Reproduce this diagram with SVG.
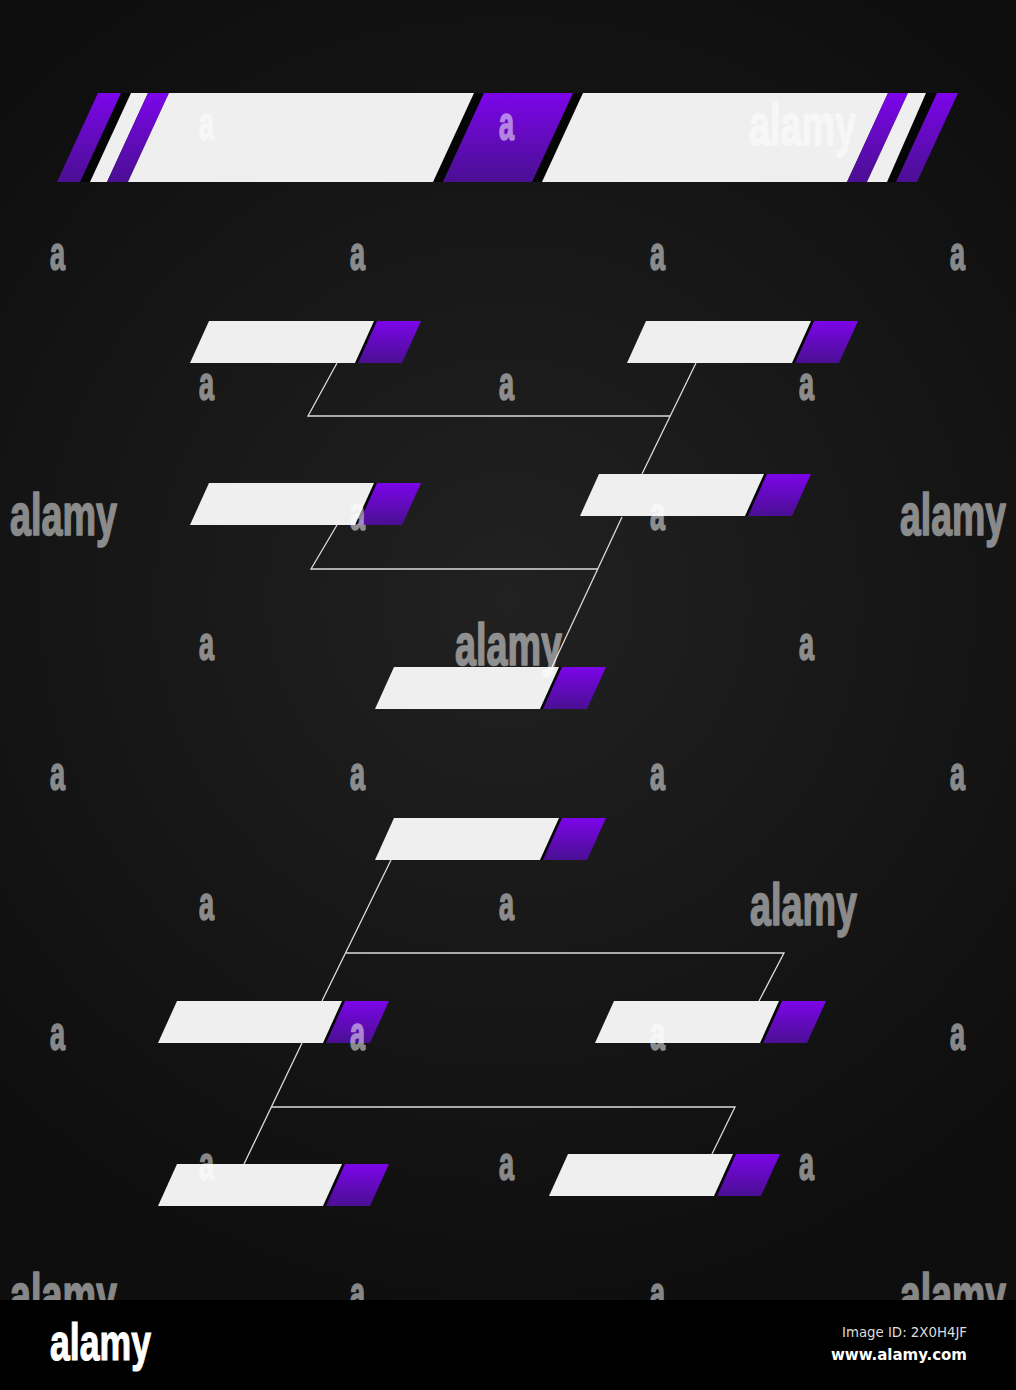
<svg xmlns="http://www.w3.org/2000/svg" xmlns:xlink="http://www.w3.org/1999/xlink" width="1016" height="1390" viewBox="0 0 1016 1390">
<defs>
<radialGradient id="bg" cx="508" cy="600" r="720" gradientUnits="userSpaceOnUse">
<stop offset="0" stop-color="#212122"/>
<stop offset="1" stop-color="#0e0e0e"/>
</radialGradient>
<linearGradient id="pur" x1="0" y1="0" x2="0" y2="1">
<stop offset="0" stop-color="#7c05ea"/>
<stop offset="1" stop-color="#4a0f92"/>
</linearGradient>
<g id="nodeShape">
<polygon points="181,0 188,0 169,42 162,42" fill="#050505"/>
<polygon class="w" points="19,0 184,0 165,42 0,42"/>
<polygon class="p" points="187,0 231,0 212,42 168,42"/>
</g>
<style>
.w{fill:#efefef}
.p{fill:url(#pur)}
.gap{fill:#050505}
.con{fill:none;stroke:#dcdcdc;stroke-width:1.3}
.wm text{fill:#ffffff;stroke:#ffffff;stroke-width:1.6;stroke-linejoin:round;opacity:0.5;font-family:"Liberation Sans Narrow","Liberation Sans",Arial,sans-serif;font-weight:bold}
.wa{font-size:48px}
.wb{font-size:60px}
</style>
</defs>
<rect x="0" y="0" width="1016" height="1390" fill="url(#bg)"/>

<g id="banner">
<polygon class="gap" points="121,93 131,93 90,182 80,182"/>
<polygon class="gap" points="474,93 484,93 443,182 433,182"/>
<polygon class="gap" points="573,93 583,93 542,182 532,182"/>
<polygon class="gap" points="926,93 937,93 896,182 887,182"/>
<polygon class="p" points="98,93 121,93 80,182 57,182"/>
<polygon class="w" points="131,93 148,93 107,182 90,182"/>
<polygon class="p" points="148,93 169,93 128,182 107,182"/>
<polygon class="w" points="169,93 474,93 433,182 128,182"/>
<polygon class="p" points="484,93 573,93 532,182 443,182"/>
<polygon class="w" points="583,93 888,93 847,182 542,182"/>
<polygon class="p" points="888,93 908,93 867,182 847,182"/>
<polygon class="w" points="908,93 926,93 887,182 867,182"/>
<polygon class="p" points="937,93 958,93 917,182 896,182"/>
</g>

<g id="connectors">
<polyline class="con" points="337,363 308,416 670,416"/>
<line class="con" x1="696" y1="363" x2="642" y2="474"/>
<polyline class="con" points="337,525 311,569 598,569"/>
<line class="con" x1="622" y1="517" x2="552" y2="667"/>
<line class="con" x1="391" y1="860" x2="322" y2="1001"/>
<polyline class="con" points="346,953 784,953 759,1001"/>
<line class="con" x1="302" y1="1043" x2="244" y2="1164"/>
<polyline class="con" points="271,1107 735,1107 712,1154"/>
</g>

<g id="n1" transform="translate(190,321)"><use xlink:href="#nodeShape"/></g>
<g id="n2" transform="translate(627,321)"><use xlink:href="#nodeShape"/></g>
<g id="n3" transform="translate(580,474)"><use xlink:href="#nodeShape"/></g>
<g id="n4" transform="translate(190,483)"><use xlink:href="#nodeShape"/></g>
<g id="n5" transform="translate(375,667)"><use xlink:href="#nodeShape"/></g>
<g id="n6" transform="translate(375,818)"><use xlink:href="#nodeShape"/></g>
<g id="n7" transform="translate(158,1001)"><use xlink:href="#nodeShape"/></g>
<g id="n8" transform="translate(595,1001)"><use xlink:href="#nodeShape"/></g>
<g id="n9" transform="translate(158,1164)"><use xlink:href="#nodeShape"/></g>
<g id="n10" transform="translate(549,1154)"><use xlink:href="#nodeShape"/></g>

<g id="watermarks" class="wm">
<text class="wa" x="199" y="140" textLength="15" lengthAdjust="spacingAndGlyphs">a</text>
<text class="wa" x="499" y="140" textLength="15" lengthAdjust="spacingAndGlyphs">a</text>
<text class="wb" x="749" y="145" textLength="107" lengthAdjust="spacingAndGlyphs">alamy</text>

<text class="wa" x="50" y="270" textLength="15" lengthAdjust="spacingAndGlyphs">a</text>
<text class="wa" x="350" y="270" textLength="15" lengthAdjust="spacingAndGlyphs">a</text>
<text class="wa" x="650" y="270" textLength="15" lengthAdjust="spacingAndGlyphs">a</text>
<text class="wa" x="950" y="270" textLength="15" lengthAdjust="spacingAndGlyphs">a</text>

<text class="wa" x="199" y="400" textLength="15" lengthAdjust="spacingAndGlyphs">a</text>
<text class="wa" x="499" y="400" textLength="15" lengthAdjust="spacingAndGlyphs">a</text>
<text class="wa" x="799" y="400" textLength="15" lengthAdjust="spacingAndGlyphs">a</text>

<text class="wb" x="10" y="535" textLength="107" lengthAdjust="spacingAndGlyphs">alamy</text>
<text class="wa" x="350" y="530" textLength="15" lengthAdjust="spacingAndGlyphs">a</text>
<text class="wa" x="650" y="530" textLength="15" lengthAdjust="spacingAndGlyphs">a</text>
<text class="wb" x="900" y="535" textLength="106" lengthAdjust="spacingAndGlyphs">alamy</text>

<text class="wa" x="199" y="660" textLength="15" lengthAdjust="spacingAndGlyphs">a</text>
<text class="wb" x="455" y="665" textLength="107" lengthAdjust="spacingAndGlyphs">alamy</text>
<text class="wa" x="799" y="660" textLength="15" lengthAdjust="spacingAndGlyphs">a</text>

<text class="wa" x="50" y="790" textLength="15" lengthAdjust="spacingAndGlyphs">a</text>
<text class="wa" x="350" y="790" textLength="15" lengthAdjust="spacingAndGlyphs">a</text>
<text class="wa" x="650" y="790" textLength="15" lengthAdjust="spacingAndGlyphs">a</text>
<text class="wa" x="950" y="790" textLength="15" lengthAdjust="spacingAndGlyphs">a</text>

<text class="wa" x="199" y="920" textLength="15" lengthAdjust="spacingAndGlyphs">a</text>
<text class="wa" x="499" y="920" textLength="15" lengthAdjust="spacingAndGlyphs">a</text>
<text class="wb" x="750" y="925" textLength="107" lengthAdjust="spacingAndGlyphs">alamy</text>

<text class="wa" x="50" y="1050" textLength="15" lengthAdjust="spacingAndGlyphs">a</text>
<text class="wa" x="350" y="1050" textLength="15" lengthAdjust="spacingAndGlyphs">a</text>
<text class="wa" x="650" y="1050" textLength="15" lengthAdjust="spacingAndGlyphs">a</text>
<text class="wa" x="950" y="1050" textLength="15" lengthAdjust="spacingAndGlyphs">a</text>

<text class="wa" x="199" y="1180" textLength="15" lengthAdjust="spacingAndGlyphs">a</text>
<text class="wa" x="499" y="1180" textLength="15" lengthAdjust="spacingAndGlyphs">a</text>
<text class="wa" x="799" y="1180" textLength="15" lengthAdjust="spacingAndGlyphs">a</text>

<text class="wb" x="10" y="1315" textLength="107" lengthAdjust="spacingAndGlyphs">alamy</text>
<text class="wa" x="350" y="1310" textLength="15" lengthAdjust="spacingAndGlyphs">a</text>
<text class="wa" x="650" y="1310" textLength="15" lengthAdjust="spacingAndGlyphs">a</text>
<text class="wb" x="900" y="1315" textLength="106" lengthAdjust="spacingAndGlyphs">alamy</text>
</g>

<g id="footer">
<rect x="0" y="1300" width="1016" height="90" fill="#000000"/>
<text x="50" y="1360" font-family="Liberation Sans Narrow, Liberation Sans, Arial, sans-serif" font-weight="bold" font-size="52" fill="#ffffff" stroke="#ffffff" stroke-width="1.2" textLength="101" lengthAdjust="spacingAndGlyphs">alamy</text>
<text x="967" y="1337" text-anchor="end" font-family="DejaVu Sans Condensed, DejaVu Sans, sans-serif" font-size="14" fill="#dddddd" textLength="125" lengthAdjust="spacingAndGlyphs">Image ID: 2X0H4JF</text>
<text x="967" y="1360" text-anchor="end" font-family="DejaVu Sans Condensed, DejaVu Sans, sans-serif" font-weight="bold" font-size="16" fill="#ffffff" textLength="136" lengthAdjust="spacingAndGlyphs">www.alamy.com</text>
</g>
</svg>
